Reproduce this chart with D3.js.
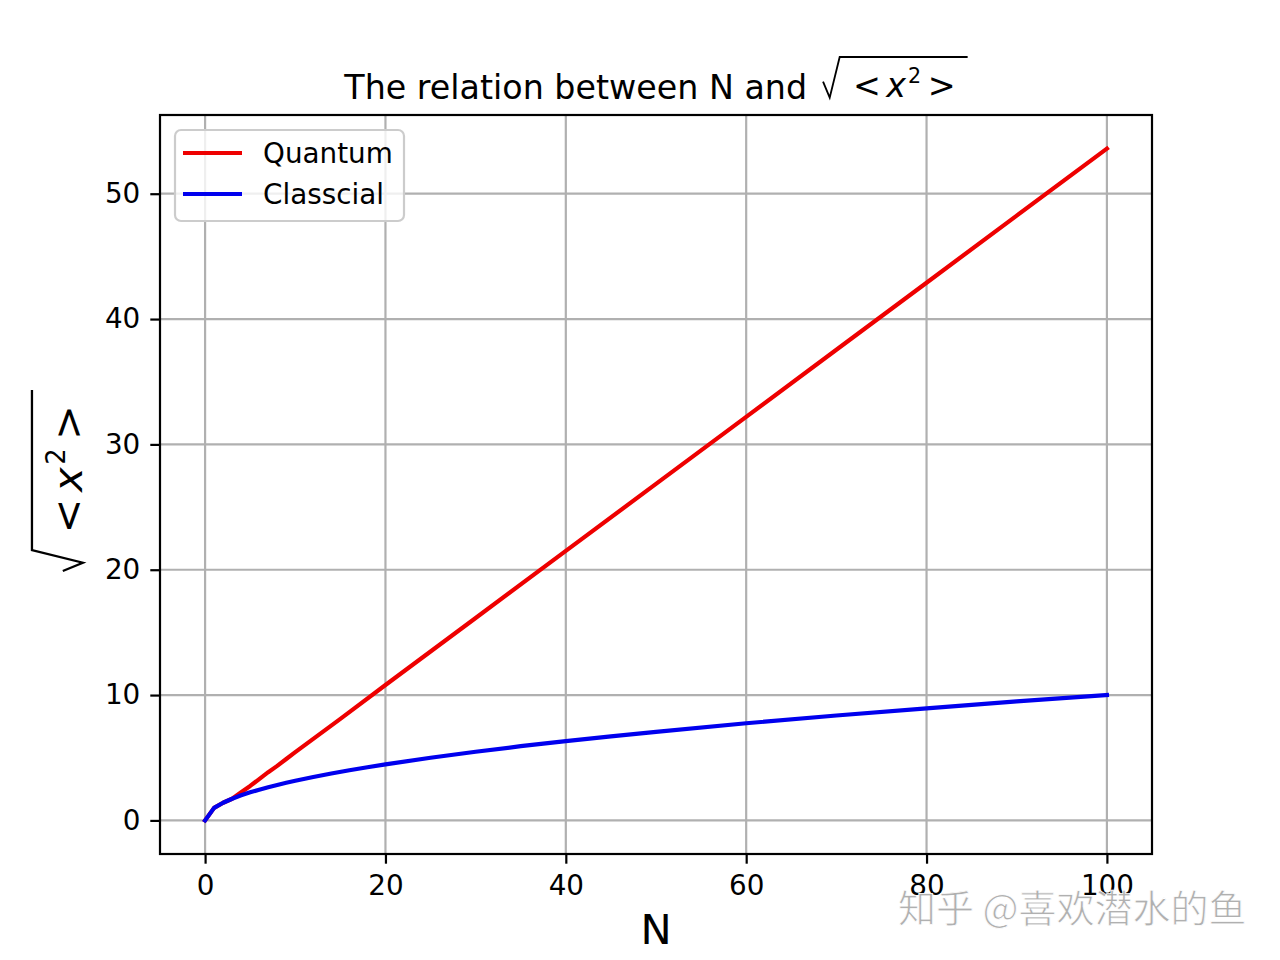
<!DOCTYPE html>
<html>
<head>
<meta charset="utf-8">
<script src="https://cdn.jsdelivr.net/npm/d3@7"></script>
<style>
  body { margin: 0; background: #fff; }
  svg text { font-family: "DejaVu Sans", sans-serif; }
</style>
</head>
<body>
<div class="graph_container"></div>
<script>
// data
const quantumN = [0, 1, 2, 3, 4, 5, 6, 7, 8, 9, 10, 15, 20, 30, 40, 50, 60, 70, 80, 90, 100];
const quantumVal = [0, 1, 1.41, 1.73, 2.24, 2.75, 3.3, 3.85, 4.35, 4.9, 5.45, 8.1, 10.8, 16.15, 21.5, 26.85, 32.2, 37.55, 42.9, 48.25, 53.6];
const classicN = [0, 1, 2, 3, 4, 5, 6, 7, 8, 9, 10, 12, 14, 16, 18, 20, 25, 30, 35, 40, 45, 50, 60, 70, 80, 90, 100];
const classicVal = [0, 1, 1.41, 1.73, 2, 2.24, 2.45, 2.65, 2.83, 3, 3.16, 3.46, 3.74, 4, 4.24, 4.47, 5, 5.48, 5.92, 6.32, 6.71, 7.07, 7.75, 8.37, 8.94, 9.49, 10];
const xTicks = [0, 20, 40, 60, 80, 100];
const yTicks = [0, 10, 20, 30, 40, 50];
const seriesNames = ["Quantum", "Classcial"];
const seriesColors = ["#ee0000", "#0000ee"];

// dimensions
const W = 1280, H = 960;
const mLeft = 160, mRight = 1152, mTop = 115, mBottom = 854;

const svg = d3.select(".graph_container").append("svg")
  .attr("width", W).attr("height", H);

const x = d3.scaleLinear().domain([-5, 105]).range([mLeft, mRight]);
const y = d3.scaleLinear().domain([-2.68, 56.28]).range([mBottom, mTop]);

// grid
const grid = svg.append("g");
grid.selectAll(".gx").data(xTicks).enter().append("line")
  .attr("x1", d => x(d)).attr("x2", d => x(d))
  .attr("y1", mTop).attr("y2", mBottom)
  .attr("stroke", "#b0b0b0").attr("stroke-width", 2.2);
grid.selectAll(".gy").data(yTicks).enter().append("line")
  .attr("y1", d => y(d)).attr("y2", d => y(d))
  .attr("x1", mLeft).attr("x2", mRight)
  .attr("stroke", "#b0b0b0").attr("stroke-width", 2.2);

// lines
const lineGen = d3.line().x(d => x(d[0])).y(d => y(d[1]));
const series = [
  d3.zip(quantumN, quantumVal),
  d3.zip(classicN, classicVal)
];
series.forEach((s, i) => {
  svg.append("path").datum(s)
    .attr("d", lineGen)
    .attr("fill", "none")
    .attr("stroke", seriesColors[i])
    .attr("stroke-width", 4.2)
    .attr("stroke-linejoin", "round")
    .attr("stroke-linecap", "square");
});

// axes
const xAxis = d3.axisBottom(x).tickValues(xTicks).tickSize(9.7).tickPadding(12).tickFormat(d3.format("d"));
const yAxis = d3.axisLeft(y).tickValues(yTicks).tickSize(9.7).tickPadding(10).tickFormat(d3.format("d"));
const gx = svg.append("g").attr("transform", "translate(0," + mBottom + ")").call(xAxis);
const gy = svg.append("g").attr("transform", "translate(" + mLeft + ",0)").call(yAxis);
[gx, gy].forEach(g => {
  g.select(".domain").remove();
  g.selectAll(".tick line").attr("stroke", "#000").attr("stroke-width", 2.2);
  g.selectAll(".tick text").attr("fill", "#000").style("font-size", "27.8px")
    .style("font-family", "'DejaVu Sans', sans-serif");
});

// frame
svg.append("rect")
  .attr("x", mLeft).attr("y", mTop)
  .attr("width", mRight - mLeft).attr("height", mBottom - mTop)
  .attr("fill", "none").attr("stroke", "#000").attr("stroke-width", 2.2);

// math label helper: sqrt(<x^2>), baseline at y=0, starting at x=0
function mathSqrt(g, fs) {
  const radTop = fs * 0.5;
  const parts = [
    { t: "<", size: fs, dy: 0, pad: fs * 0.4 },
    { t: "x", size: fs, dy: 0, italic: true, pad: fs * 0.16 },
    { t: "2", size: fs * 0.62, dy: -fs * 0.42, pad: fs * 0.06 },
    { t: ">", size: fs, dy: 0, pad: fs * 0.2 }
  ];
  let cx = radTop;
  parts.forEach(p => {
    cx += p.pad || 0;
    const t = g.append("text")
      .attr("x", cx).attr("y", p.dy)
      .style("font-size", p.size + "px")
      .style("font-style", p.italic ? "italic" : "normal")
      .text(p.t);
    cx += t.node().getComputedTextLength();
  });
  cx += fs * 0.36;
  const over = -fs * 1.2;
  g.append("path")
    .attr("d", "M0," + (-fs * 0.46) + "L" + (fs * 0.2) + "," + (fs * 0.02) +
      "L" + radTop + "," + over + "L" + cx + "," + over)
    .attr("fill", "none").attr("stroke", "#000")
    .attr("stroke-width", fs * 0.055).attr("stroke-linejoin", "miter");
  return cx;
}

// title
const titleG = svg.append("g");
const tFs = 33.3;
const tText = titleG.append("text").attr("x", 0).attr("y", 0)
  .style("font-size", tFs + "px").text("The relation between N and");
const tW = tText.node().getComputedTextLength() + 16;
const mG = titleG.append("g").attr("transform", "translate(" + tW + ",-2)");
const mW = mathSqrt(mG, tFs);
titleG.attr("transform", "translate(" + ((mLeft + mRight) / 2 - (tW + mW) / 2) + ",99)");

// y label
const ylG = svg.append("g");
const yInner = ylG.append("g");
const yW = mathSqrt(yInner, 41.7);
ylG.attr("transform", "translate(82," + ((mTop + mBottom) / 2 - 4) + ") rotate(-90) translate(" + (-yW / 2) + ",0)");

// x label
svg.append("text")
  .attr("x", (mLeft + mRight) / 2).attr("y", 944)
  .attr("text-anchor", "middle")
  .style("font-size", "41.7px").text("N");

// legend
const lg = svg.append("g");
lg.append("rect")
  .attr("x", 175).attr("y", 130).attr("width", 229).attr("height", 91)
  .attr("rx", 6).attr("fill", "#fff").attr("fill-opacity", 0.8)
  .attr("stroke", "#cccccc").attr("stroke-width", 2.2);
seriesNames.forEach((name, i) => {
  const yy = 153 + i * 41;
  lg.append("line")
    .attr("x1", 183).attr("x2", 242).attr("y1", yy).attr("y2", yy)
    .attr("stroke", seriesColors[i]).attr("stroke-width", 4.2);
  lg.append("text")
    .attr("x", 263).attr("y", yy + 10)
    .style("font-size", "27.8px").text(name);
});

// watermark
svg.append("text")
  .attr("x", 898).attr("y", 922)
  .style("font-family", "'Noto Sans CJK SC', sans-serif")
  .style("font-size", "38px")
  .attr("fill", "#b0b0b0")
  .attr("stroke", "#ffffff").attr("stroke-width", 0.8)
  .text("知乎 @喜欢潜水的鱼");
</script>
</body>
</html>
